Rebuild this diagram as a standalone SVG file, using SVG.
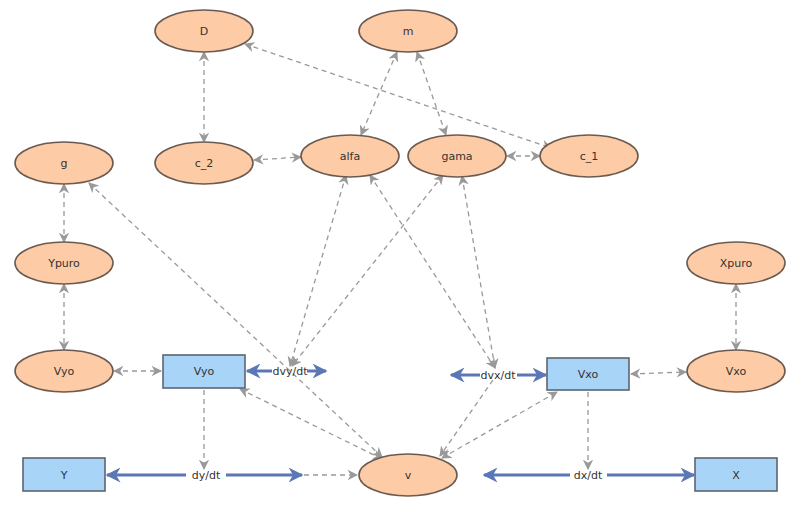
<svg xmlns="http://www.w3.org/2000/svg" width="800" height="505" viewBox="0 0 800 505">
<defs>
<marker id="ga" viewBox="0 0 10 10" refX="9" refY="5" markerWidth="8" markerHeight="8" orient="auto-start-reverse"><path d="M0,0 L10,5 L0,10 L3,5 z" fill="#999"/></marker>
<marker id="ba" viewBox="0 0 10 10" refX="9" refY="5" markerWidth="5" markerHeight="5" orient="auto"><path d="M0,0 L10,5 L0,10 L3,5 z" fill="#5b77b5"/></marker>
<style>
.e{fill:#fdcba5;stroke:#6b5a50;stroke-width:1.6}
.r{fill:#a8d4f7;stroke:#5d6570;stroke-width:1.6}
text{font-family:"Comic Sans MS","DejaVu Sans",sans-serif;font-size:11px;fill:#333;text-anchor:middle;dominant-baseline:central}
.d{stroke:#999;stroke-width:1.3;stroke-dasharray:5,4;fill:none;marker-start:url(#ga);marker-end:url(#ga)}
.s{stroke:#999;stroke-width:1.3;stroke-dasharray:5,4;fill:none;marker-end:url(#ga)}
.f{stroke:#5b77b5;stroke-width:3;fill:none;marker-end:url(#ba)}
</style>
</defs>
<g id="connectors">
<line class="d" x1="204" y1="52" x2="204" y2="142"/>
<line class="d" x1="245" y1="44" x2="551" y2="148"/>
<line class="d" x1="397" y1="52" x2="361" y2="135"/>
<line class="d" x1="417" y1="52" x2="446" y2="135"/>
<line class="d" x1="254" y1="160" x2="301" y2="157"/>
<line class="d" x1="507" y1="156" x2="540" y2="156"/>
<line class="d" x1="64" y1="184" x2="64" y2="242"/>
<line class="d" x1="64" y1="284" x2="64" y2="350"/>
<line class="d" x1="114" y1="371" x2="161" y2="371"/>
<line class="d" x1="89" y1="183" x2="382" y2="457"/>
<line class="d" x1="346" y1="175" x2="290" y2="366"/>
<line class="d" x1="443" y1="175" x2="292" y2="366"/>
<line class="d" x1="370" y1="175" x2="495" y2="368"/>
<line class="d" x1="462" y1="176" x2="495" y2="368"/>
<line class="d" x1="240" y1="389" x2="382" y2="459"/>
<line class="s" x1="493" y1="380" x2="440" y2="456"/>
<line class="d" x1="442" y1="458" x2="557" y2="392"/>
<line class="s" x1="204" y1="390" x2="204" y2="469"/>
<line class="s" x1="588" y1="392" x2="588" y2="469"/>
<line class="s" x1="304" y1="475" x2="357" y2="475"/>
<line class="d" x1="631" y1="374" x2="686" y2="372"/>
<line class="d" x1="736" y1="284" x2="736" y2="350"/>
<line class="f" x1="272" y1="371" x2="247" y2="371"/>
<line class="f" x1="307" y1="371" x2="326" y2="371"/>
<line class="f" x1="480" y1="375" x2="451" y2="375"/>
<line class="f" x1="517" y1="375" x2="546" y2="375"/>
<line class="f" x1="186" y1="475" x2="107" y2="475"/>
<line class="f" x1="226" y1="475" x2="302" y2="475"/>
<line class="f" x1="570" y1="475" x2="484" y2="475"/>
<line class="f" x1="607" y1="475" x2="694" y2="475"/>
</g>
<g id="D"><ellipse class="e" cx="204" cy="31" rx="49" ry="21"/><text x="204" y="31">D</text></g>
<g id="m"><ellipse class="e" cx="408" cy="31" rx="49" ry="21"/><text x="408" y="31">m</text></g>
<g id="c_2"><ellipse class="e" cx="204" cy="163" rx="49" ry="21"/><text x="204" y="163">c_2</text></g>
<g id="alfa"><ellipse class="e" cx="350" cy="156" rx="49" ry="21"/><text x="350" y="156">alfa</text></g>
<g id="gama"><ellipse class="e" cx="457" cy="156" rx="49" ry="21"/><text x="457" y="156">gama</text></g>
<g id="c_1"><ellipse class="e" cx="589" cy="156" rx="49" ry="21"/><text x="589" y="156">c_1</text></g>
<g id="g"><ellipse class="e" cx="64" cy="163" rx="49" ry="21"/><text x="64" y="163">g</text></g>
<g id="Ypuro"><ellipse class="e" cx="64" cy="263" rx="49" ry="21"/><text x="64" y="263">Ypuro</text></g>
<g id="Xpuro"><ellipse class="e" cx="736" cy="263" rx="49" ry="21"/><text x="736" y="263">Xpuro</text></g>
<g id="Vyo_aux"><ellipse class="e" cx="64" cy="371" rx="49" ry="21"/><text x="64" y="371">Vyo</text></g>
<g id="Vxo_aux"><ellipse class="e" cx="736" cy="371" rx="49" ry="21"/><text x="736" y="371">Vxo</text></g>
<g id="v"><ellipse class="e" cx="408" cy="475" rx="49" ry="21"/><text x="408" y="475">v</text></g>
<g id="Vyo"><rect class="r" x="163" y="355" width="82" height="33"/><text x="204" y="371">Vyo</text></g>
<g id="Vxo"><rect class="r" x="547" y="358" width="82" height="32"/><text x="588" y="374">Vxo</text></g>
<g id="Y"><rect class="r" x="23" y="458" width="82" height="33"/><text x="64" y="475">Y</text></g>
<g id="X"><rect class="r" x="695" y="458" width="82" height="33"/><text x="736" y="475">X</text></g>
<g id="flows">
<text x="290" y="371">dvy/dt</text>
<text x="498" y="375">dvx/dt</text>
<text x="206" y="475">dy/dt</text>
<text x="588" y="475">dx/dt</text>
</g>
</svg>
